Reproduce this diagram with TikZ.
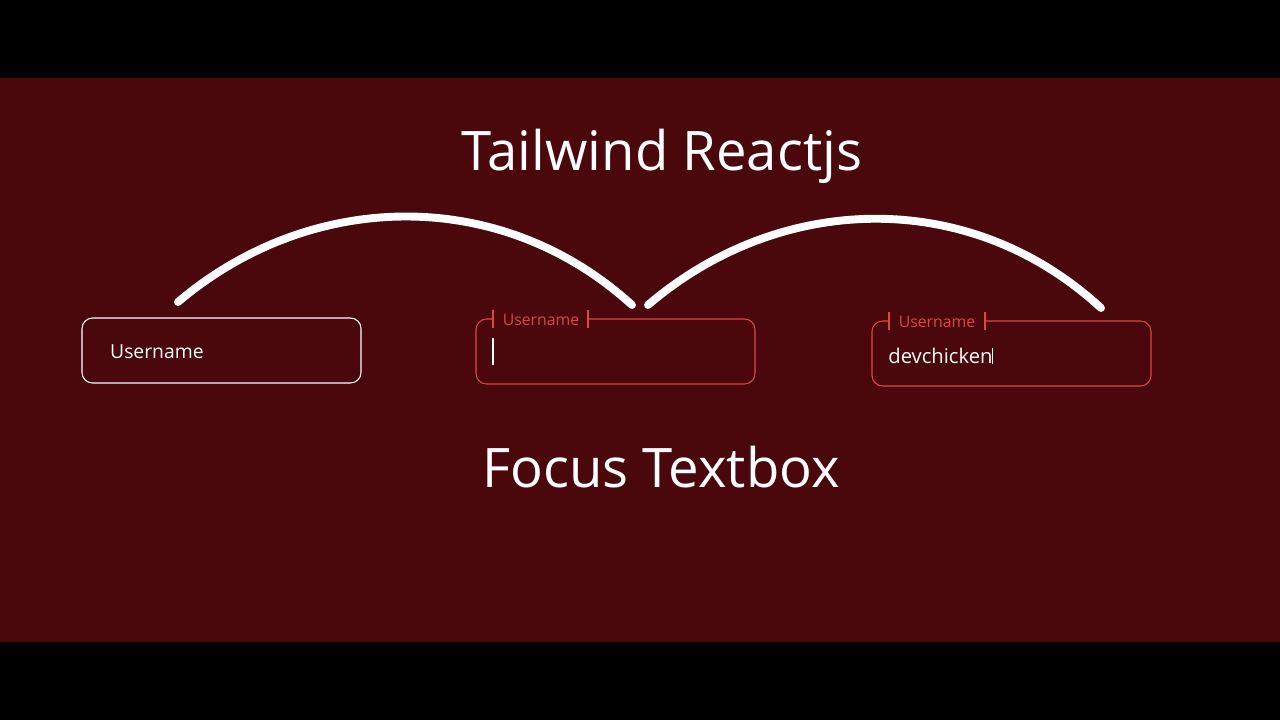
\documentclass[tikz,border=0pt]{standalone}
\usepackage{fontspec}
\setmainfont{Open Sans}
\usetikzlibrary{positioning}
\definecolor{bgred}{RGB}{74,8,12}
\definecolor{boxred}{RGB}{222,70,70}
\tikzset{field/.style = {draw, rounded corners=6pt, line width=0.6pt},
  lbl/.style = {text=boxred, font=\fontsize{9}{10}\selectfont, inner sep=1pt},
  arc/.style = {draw=white, line width=4.5pt, line cap=round}}
\begin{document}
\begin{tikzpicture}[x=0.02cm, y=-0.02cm]
\fill[black] (0,0) rectangle (1280,720);
\fill[bgred] (0,78) rectangle (1280,642);

\node[text=white, font=\fontsize{31}{34}\selectfont] (title) at (662,156) {Tailwind Reactjs};
\node[text=white, font=\fontsize{31}{34}\selectfont] (focus) at (661,467) {Focus Textbox};

% plain field
\draw[field, white] (82,318) rectangle (361,383);
\node[text=white, font=\fontsize{11}{12}\selectfont, anchor=west] (user1) at (104,352) {Username};

% focused field, empty
\draw[field, boxred] (493,319) -| (476,384) -| (755,319) -- (588,319);
\draw[boxred, line width=0.6pt] (493,310) -- (493,328) (588,310) -- (588,328);
\node[lbl] (user2) at (541,320) {Username};
\draw[white, line width=0.6pt] (493,338) -- (493,365);

% focused field, filled
\draw[field, boxred] (889,321) -| (872,386) -| (1151,321) -- (985,321);
\draw[boxred, line width=0.6pt] (889,312) -- (889,330) (985,312) -- (985,330);
\node[lbl] (user3) at (937,322) {Username};
\node[text=white, font=\fontsize{11.5}{12}\selectfont, anchor=west, inner sep=0pt] (value) at (888,356) {devchicken};
\draw[white, line width=0.6pt] (value.north east) -- (value.south east);

\coordinate (a1) at (178,302);
\coordinate (b1) at (632,305);
\coordinate (a2) at (648,305);
\coordinate (b2) at (1101,308);
\draw[arc] (a1) .. controls (310,190) and (500,185) .. (b1);
\draw[arc] (a2) .. controls (780,192) and (970,187) .. (b2);
\end{tikzpicture}
\end{document}
